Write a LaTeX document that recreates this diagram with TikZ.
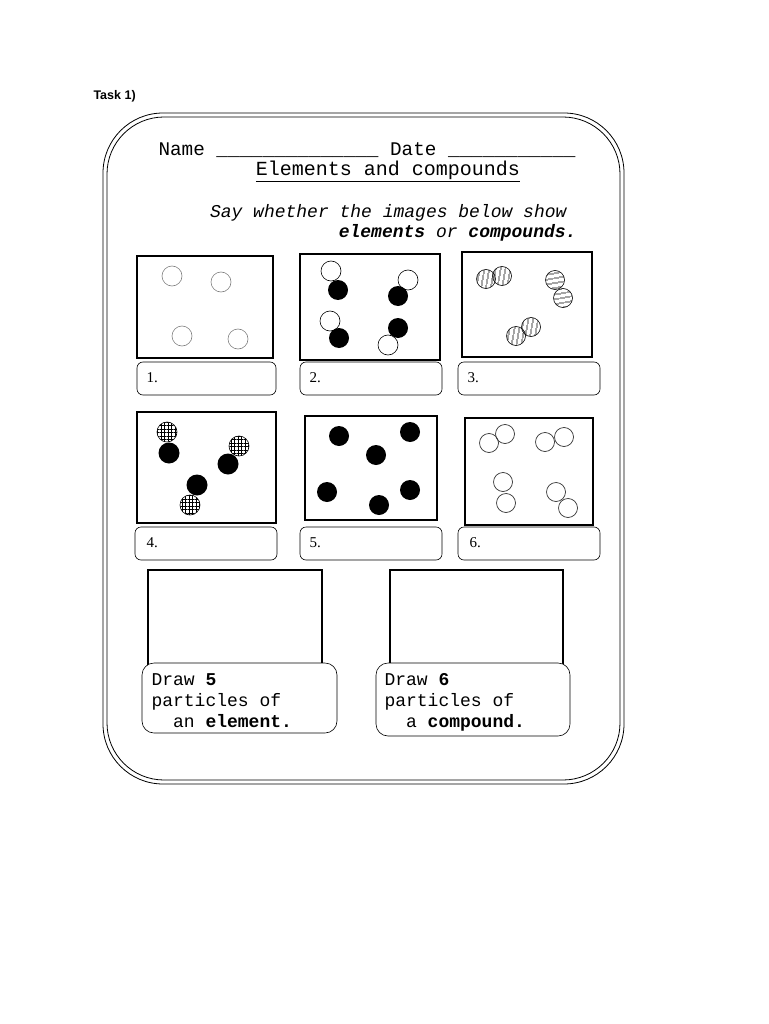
\documentclass[tikz,border=0pt]{standalone}
\usepackage{fontspec}
\setmainfont{Liberation Serif}
\newfontfamily\monof{Liberation Mono}
\newfontfamily\sansf{Liberation Sans}
\usetikzlibrary{patterns.meta}
\begin{document}
\begin{tikzpicture}[x=1pt,y=-1pt,
  pbox/.style={draw,line width=1.3pt},
  lbox/.style={draw,rounded corners=6pt,line width=0.6pt},
  wh/.style={draw,line width=0.6pt,fill=white},
  bk/.style={fill=black},
  st/.style={draw,line width=0.6pt,pattern={Lines[distance=4pt,angle=#1,line width=0.7pt]}},
  gr/.style={draw,line width=0.6pt,pattern={Hatch[distance=3.5pt,angle=0,line width=0.5pt]}},
  num/.style={anchor=west,font=\fontsize{15}{17}\selectfont},
  mono/.style={font=\monof\fontsize{20}{22}\selectfont}]
\useasboundingbox (0,0) rectangle (768,1024);
\node[anchor=west,font=\sansf\bfseries\fontsize{12.5}{14}\selectfont] (task) at (90,96) {Task 1)};
\draw[line width=0.8pt,rounded corners=60pt] (103,113) rectangle (624,784);
\draw[line width=0.8pt,rounded corners=57pt] (107,117) rectangle (620,780);
\node[mono,anchor=west,font=\monof\fontsize{19.3}{22}\selectfont] (name) at (155,150) {Name \_\_\_\_\_\_\_\_\_\_\_\_\_\_ Date \_\_\_\_\_\_\_\_\_\_\_};
\node[mono] (title) at (388,171) {\underline{Elements and compounds}};
\node[mono,anchor=east,font=\monof\itshape\fontsize{18}{20}\selectfont] (say) at (570,213) {Say whether the images below show};
\node[mono,anchor=east,font=\monof\itshape\fontsize{18}{20}\selectfont] (say2) at (580,233) {\textbf{elements} or \textbf{compounds.}};
% row 1
\draw[pbox] (137,256) rectangle (273,358);
\foreach \p in {(172,276),(221,282),(182,336),(238,339)} \draw[line width=0.6pt,draw=gray] \p circle (10);
\draw[pbox] (300,254) rectangle (440,360);
\draw[wh] (331,271) circle (10); \fill[bk] (338,290) circle (10);
\draw[wh] (408,280) circle (10); \fill[bk] (398,296) circle (10);
\draw[wh] (330,321) circle (10); \fill[bk] (339,338) circle (10);
\fill[bk] (398,328) circle (10); \draw[wh] (388,345) circle (10);
\draw[pbox] (462,252) rectangle (592,357);
\draw[st=80] (486,279) circle (9.5); \draw[st=80] (502,276) circle (9.5);
\draw[st=10] (555,280) circle (9.5); \draw[st=10] (563,298) circle (9.5);
\draw[st=80] (516,336) circle (9.5); \draw[st=80] (531,327) circle (9.5);
\draw[lbox] (137,362) rectangle (276,395); \node[num] (n1) at (143,378) {1.};
\draw[lbox] (300,362) rectangle (442,395); \node[num] (n2) at (306,378) {2.};
\draw[lbox] (458,362) rectangle (600,395); \node[num] (n3) at (464,378) {3.};
% row 2
\draw[pbox] (137,412) rectangle (276,523);
\draw[gr] (167,432) circle (10); \fill[bk] (169,453) circle (10.5);
\draw[gr] (239,446) circle (10); \fill[bk] (228,464) circle (10.5);
\fill[bk] (197,485) circle (10.5); \draw[gr] (190,505) circle (10);
\draw[pbox] (305,416) rectangle (437,520);
\foreach \p in {(339,436),(410,432),(376,455),(327,492),(410,490),(379,505)} \fill[bk] \p circle (10);
\draw[pbox] (465,418) rectangle (593,525);
\foreach \p in {(489,443),(505,434),(545,442),(564,437),(503,482),(506,503),(556,492),(568,508)} \draw[line width=0.7pt,draw=black!80] \p circle (9.5);
\draw[lbox] (135,527) rectangle (277,560); \node[num] (n4) at (143,543) {4.};
\draw[lbox] (300,527) rectangle (442,560); \node[num] (n5) at (306,543) {5.};
\draw[lbox] (458,527) rectangle (600,560); \node[num] (n6) at (466,543) {6.};
% bottom
\draw[pbox] (148,570) rectangle (322,665);
\draw[pbox] (390,570) rectangle (563,665);
\draw[lbox,rounded corners=12pt,fill=white] (142,663) rectangle (337,733);
\draw[lbox,rounded corners=12pt,fill=white] (376,663) rectangle (570,736);
\node[mono,anchor=north west,align=left,font=\monof\fontsize{18}{21}\selectfont] (d1) at (148,670) {Draw \textbf{5}\\particles of\\\ \ an \textbf{element.}};
\node[mono,anchor=north west,align=left,font=\monof\fontsize{18}{21}\selectfont] (d2) at (381,670) {Draw \textbf{6}\\particles of\\\ \ a \textbf{compound.}};
\end{tikzpicture}
\end{document}
